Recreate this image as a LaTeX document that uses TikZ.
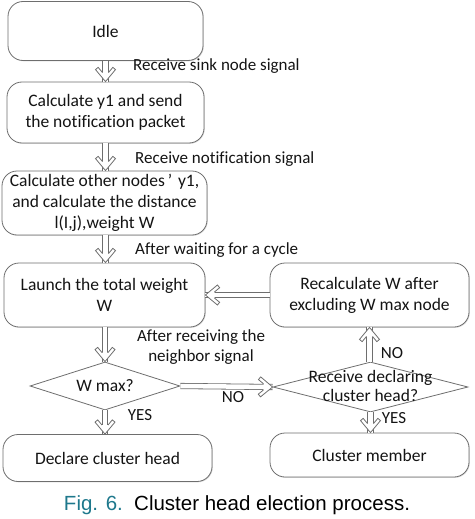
\documentclass[tikz,border=0pt]{standalone}
\usepackage{fontspec}
\setmainfont[Ligatures=NoCommon]{Carlito}
\newfontfamily\capfont{Liberation Sans}
\usetikzlibrary{shapes.geometric,arrows.meta,decorations.markings,shadows}
\definecolor{edge}{RGB}{110,110,110}
\definecolor{txt}{RGB}{20,20,20}
\definecolor{figteal}{RGB}{30,120,140}
\tikzset{
  box/.style={draw=edge, line width=0.8pt, fill=white, rounded corners=15pt, inner sep=0pt, align=center, text=txt, font=\fontsize{17.5}{21}\selectfont, drop shadow={opacity=0.3, shadow xshift=0.8pt, shadow yshift=-0.8pt}},
  dia/.style={draw=edge, line width=0.8pt, fill=white, diamond, inner sep=0pt},
  dtext/.style={align=center, text=txt, font=\fontsize{17.5}{18.5}\selectfont, inner sep=0pt},
  lbl/.style={text=txt, font=\fontsize{17}{20}\selectfont, inner sep=0pt},
  shaft/.style={draw=edge, line width=0.8pt, double=white, double distance=4.5pt},
  chevhead/.style={postaction={decorate, decoration={markings, mark=at position 1 with {
     \fill[white] (0,0) -- (-12,10) -- (-14.24,7.31) -- (-9.1,3.05) -- (-9.1,-3.05) -- (-14.24,-7.31) -- (-12,-10) -- cycle;
     \draw[edge, line width=0.8pt, line join=miter] (-9.1,3.05) -- (-14.24,7.31) -- (-12,10) -- (0,0) -- (-12,-10) -- (-14.24,-7.31) -- (-9.1,-3.05);
  }}}}
}
\newcommand{\dconn}[2]{\draw[shaft] #1 -- #2; \path[chevhead] #1 -- #2;}
\begin{document}
\begin{tikzpicture}[x=1pt,y=-1pt]
\useasboundingbox (0,0) rectangle (474,519);
\node[box, minimum width=195pt, minimum height=59pt] (idle) at (105.5,31) {Idle};
\node[box, minimum width=197pt, minimum height=61pt] (calc1) at (105.5,112.5) {Calculate y1 and send\\the notification packet};
\node[box, minimum width=205pt, minimum height=64pt] (calc2) at (104.5,203) {Calculate other nodes\,’\,\,y1,\\and calculate the distance\\l(I,j),weight W};
\node[box, minimum width=201pt, minimum height=64pt] (launch) at (104.5,295) {Launch the total weight\\W};
\node[dia, minimum width=150pt, minimum height=48pt] (wmax) at (105,386) {};
\node[dtext] (wmaxt) at (105,386) {W max?};
\node[box, minimum width=209pt, minimum height=47pt] (declare) at (107.5,458) {Declare cluster head};
\node[box, minimum width=199pt, minimum height=64pt] (recalc) at (369.5,295) {Recalculate W after\\excluding W max node};
\node[dia, minimum width=195pt, minimum height=50pt] (recv) at (370.5,387) {};
\node[dtext] (recvt) at (370.5,386) {Receive declaring\\cluster head?};
\node[box, minimum width=199pt, minimum height=44pt] (member) at (369.5,455) {Cluster member};

\dconn{(idle.south)}{(calc1.north)}
\dconn{(calc1.south)}{(calc1.south |- calc2.north)}
\dconn{(calc1.south |- calc2.south)}{(calc1.south |- launch.north)}
\dconn{(launch.south -| wmax.north)}{(wmax.north)}
\dconn{(wmax.south)}{(wmax.south |- declare.north)}
\dconn{(wmax.east)}{(recv.west)}
\dconn{(recalc.west)}{(launch.east |- recalc.west)}
\dconn{(recv.north -| recalc.south)}{(recalc.south)}
\dconn{(recv.south)}{(recv.south |- member.north)}

\node[lbl, anchor=west] (l1) at (133,66) {Receive sink node signal};
\node[lbl, anchor=west] (l2) at (135,159) {Receive notification signal};
\node[lbl, anchor=west] (l3) at (135,250) {After waiting for a cycle};
\node[lbl, align=center] (l4) at (201,347) {After receiving the\\neighbor signal};
\node[lbl] (l5) at (233,397) {NO};
\node[lbl] (l6) at (140,415) {YES};
\node[lbl] (l7) at (392,353) {NO};
\node[lbl] (l8) at (394,418) {YES};
\node[inner sep=0pt, font=\capfont\fontsize{20.5}{24}\selectfont] (cap) at (237,505) {\textcolor{figteal}{Fig. 6.}\ \ Cluster head election process.};
\end{tikzpicture}
\end{document}
